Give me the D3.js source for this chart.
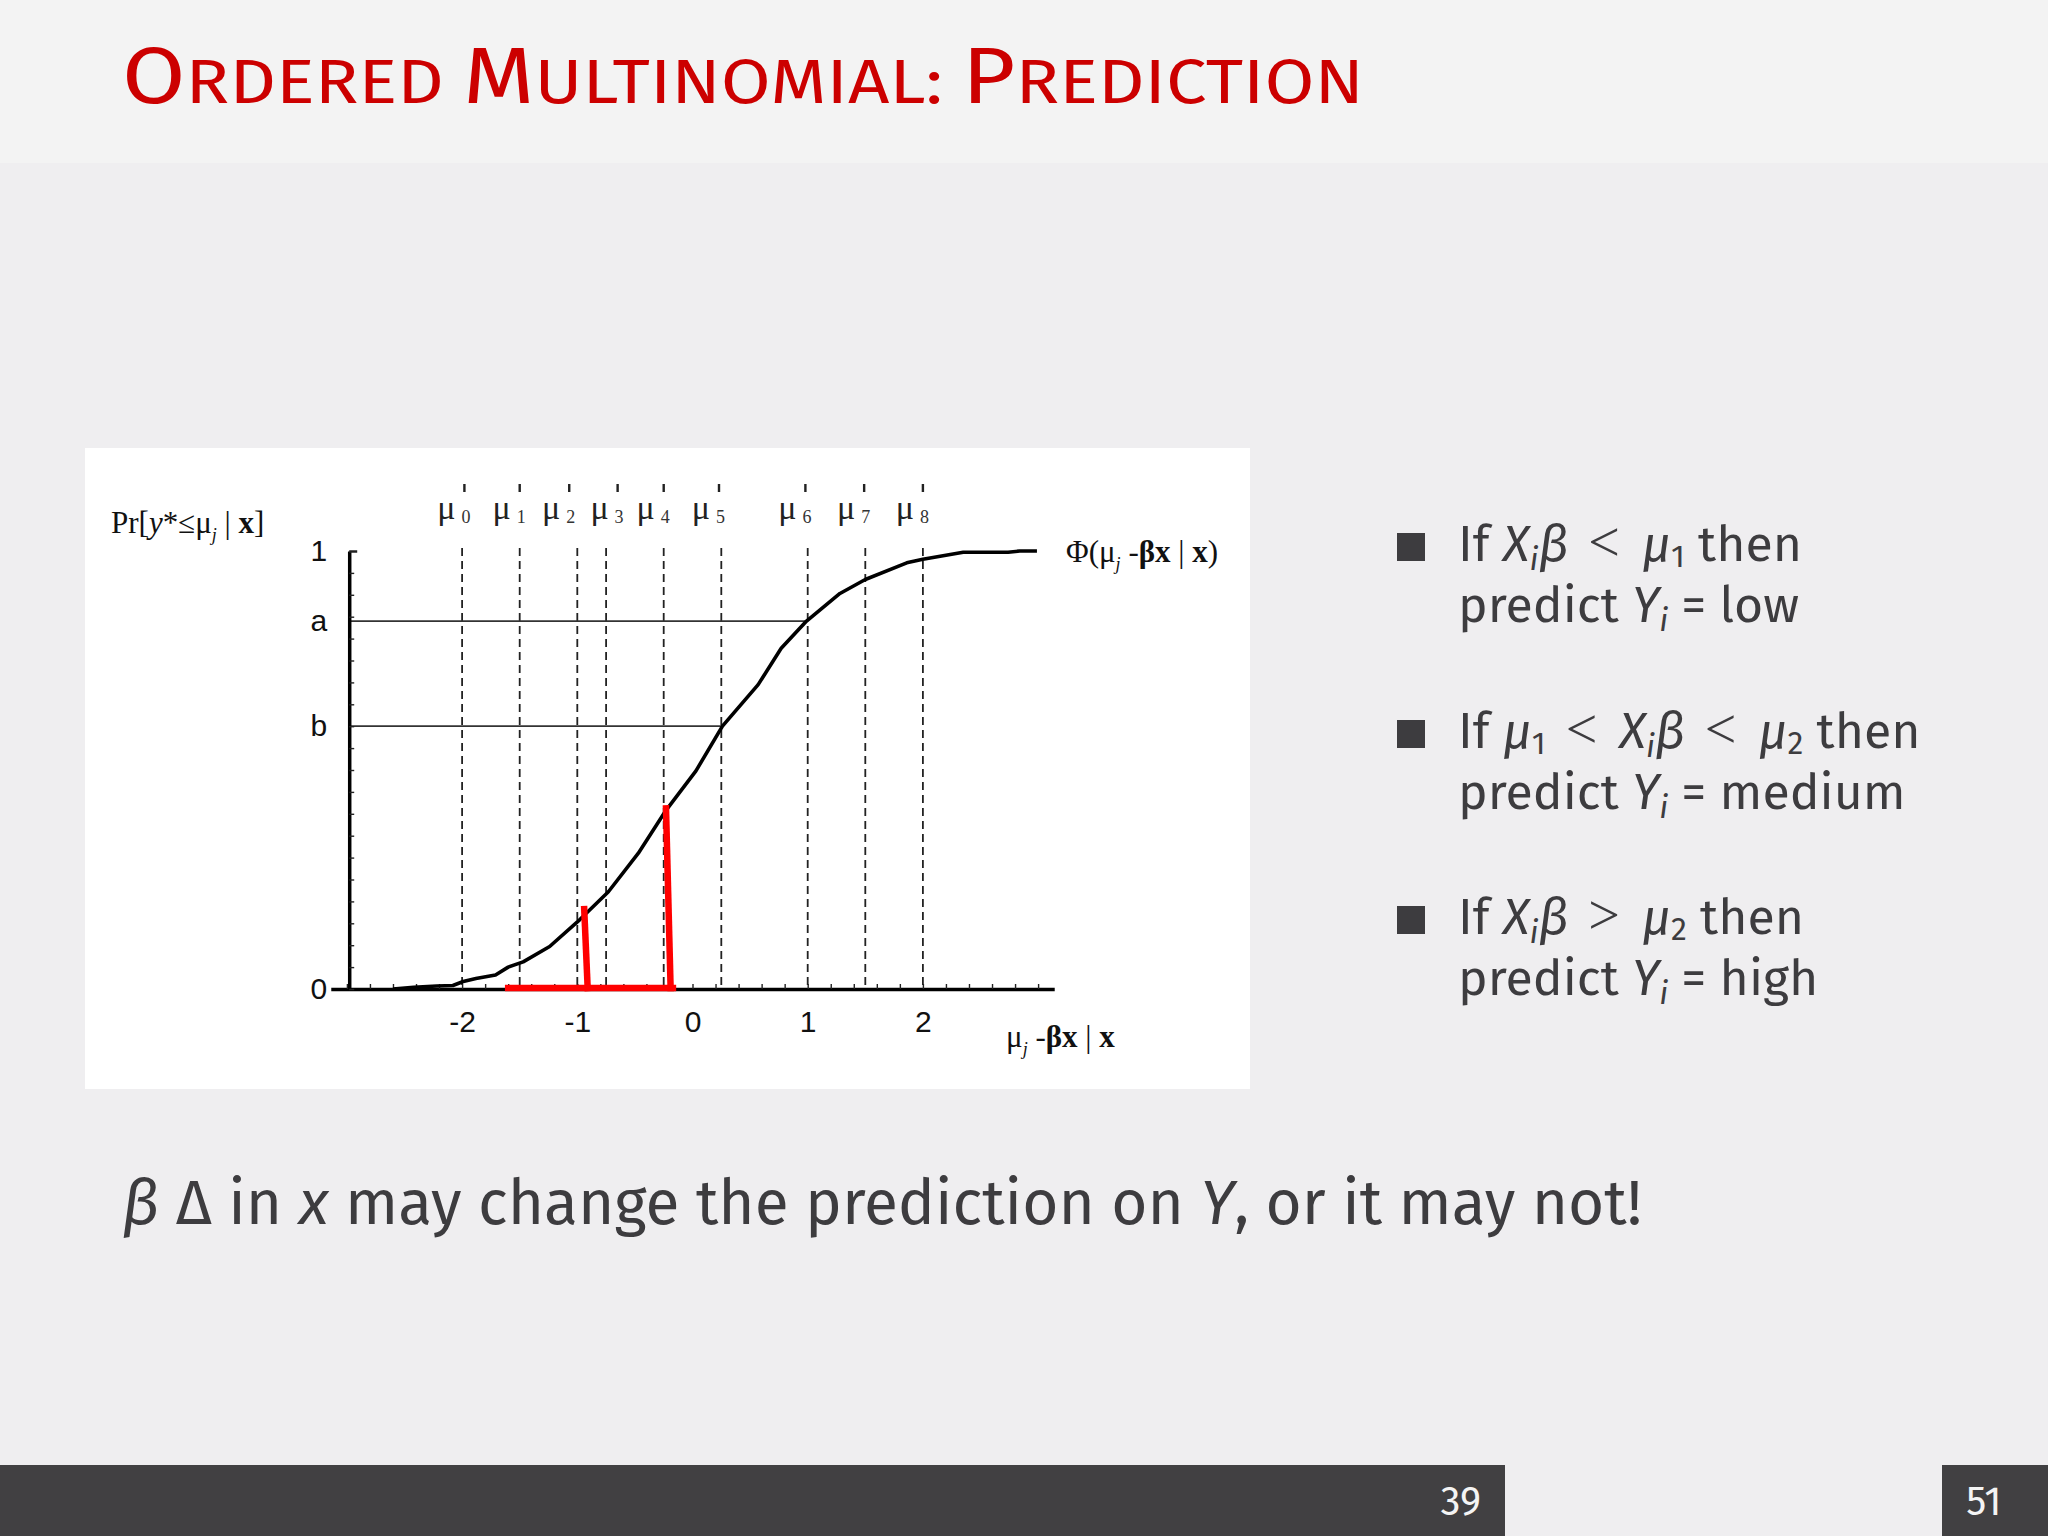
<!DOCTYPE html>
<html>
<head>
<meta charset="utf-8">
<script src="https://cdn.jsdelivr.net/npm/d3@7"></script>
<style>
  html, body { margin: 0; padding: 0; background: #efeef0; }
  svg { display: block; }
</style>
</head>
<body>
<div id="slide"></div>
<script>
// cut points mu'_0 .. mu'_8 on the x axis (dashed lines) and where their labels sit
const muNames = ['0', '1', '2', '3', '4', '5', '6', '7', '8']
const muCuts = [-2, -1.5, -1, -0.75, -0.25, 0.25, 1, 1.5, 2]
const muLabelAt = [-1.98, -1.5, -1.07, -0.65, -0.25, 0.23, 0.98, 1.49, 2.0]

// the cumulative curve
const phiX = [-2.60, -2.42, -2.22, -2.08, -1.99, -1.88, -1.71, -1.60, -1.47, -1.24, -0.98, -0.73, -0.47,
  -0.23, 0.03, 0.26, 0.57, 0.77, 0.99, 1.28, 1.50, 1.86, 2.00, 2.35, 2.74, 2.84, 2.99]
const phiY = [0.000, 0.004, 0.007, 0.008, 0.017, 0.024, 0.032, 0.050, 0.062, 0.097, 0.158, 0.222, 0.310,
  0.408, 0.498, 0.600, 0.695, 0.778, 0.840, 0.903, 0.935, 0.973, 0.981, 0.997, 0.997, 1.000, 1.000]

const xTicks = [-2, -1, 0, 1, 2]
const yTickValues = [0, 0.60, 0.84, 1]
const yTickLabels = ['0', 'b', 'a', '1']

// horizontal guides a and b run from the y axis to the curve
const levelX = [1, 0.25]
const levelY = [0.84, 0.60]

// red highlight segments
const redFromX = [-1.60, -0.91, -0.19]
const redFromY = [0, 0, 0]
const redToX = [-0.17, -0.94, -0.23]
const redToY = [0, 0.18, 0.41]

const W = 2048
const H = 1536
const ink = '#3d3c3f'
const sans = "'Fira Sans', 'Open Sans', sans-serif"
const serif = "'Liberation Serif', 'Times New Roman', serif"
const arial = "'Liberation Sans', Arial, sans-serif"

const svg = d3.select('#slide')
  .append('svg')
  .attr('width', W)
  .attr('height', H)

// background, header band
svg.append('rect').attr('width', W).attr('height', H).attr('fill', '#efeef0')
svg.append('rect').attr('width', W).attr('height', 163).attr('fill', '#f3f3f3')

// title in small caps
const title = svg.append('text')
  .attr('x', 122)
  .attr('y', 103)
  .attr('fill', '#cc0000')
  .attr('font-family', sans)
  .attr('textLength', 1242)
  .attr('lengthAdjust', 'spacingAndGlyphs')
const titleWords = ['Ordered', 'Multinomial:', 'Prediction']
titleWords.forEach((w, i) => {
  title.append('tspan').attr('font-size', 80).text(w[0])
  title.append('tspan').attr('font-size', 63)
    .text(w.slice(1).toUpperCase() + (i < titleWords.length - 1 ? ' ' : ''))
})

// white figure panel
svg.append('rect')
  .attr('x', 85).attr('y', 448)
  .attr('width', 1165).attr('height', 641)
  .attr('fill', '#ffffff')

const x = d3.scaleLinear()
  .domain([-3.14, 3.14])
  .range([692.5 - 3.14 * 115.2, 692.5 + 3.14 * 115.2])
const y = d3.scaleLinear()
  .domain([0, 1])
  .range([989, 551])

const fig = svg.append('g')

// dashed cut lines
fig.selectAll('.cut')
  .data(muCuts)
  .enter()
  .append('line')
  .attr('class', 'cut')
  .attr('x1', d => x(d)).attr('x2', d => x(d))
  .attr('y1', y(1) - 3).attr('y2', y(0))
  .attr('stroke', '#222')
  .attr('stroke-width', 1.8)
  .attr('stroke-dasharray', '8,5')

// mu' labels
const muG = fig.selectAll('.mu')
  .data(muNames)
  .enter()
  .append('g')
  .attr('class', 'mu')
  .attr('transform', (d, i) => `translate(${x(muLabelAt[i])},0)`)
muG.append('text')
  .attr('x', -9).attr('y', 519)
  .attr('text-anchor', 'end')
  .attr('font-family', serif)
  .attr('font-size', 34)
  .attr('fill', '#222')
  .text('μ')
muG.append('text')
  .attr('x', -3).attr('y', 523)
  .attr('font-family', serif)
  .attr('font-size', 18)
  .attr('fill', '#333')
  .text(d => d)
muG.append('rect')
  .attr('x', -1.2).attr('y', 484)
  .attr('width', 2.4).attr('height', 8)
  .attr('fill', '#222')

// a and b guides
fig.selectAll('.level')
  .data(levelY)
  .enter()
  .append('line')
  .attr('class', 'level')
  .attr('x1', x(-2.98))
  .attr('x2', (d, i) => x(levelX[i]))
  .attr('y1', d => y(d)).attr('y2', d => y(d))
  .attr('stroke', '#333')
  .attr('stroke-width', 1.8)

// x axis
const xAxis = d3.axisBottom(x)
  .tickValues(xTicks)
  .tickSize(0)
  .tickSizeOuter(0)
  .tickPadding(22)
  .tickFormat(d => String(d))
const gx = fig.append('g')
  .attr('transform', `translate(0,${y(0)})`)
  .call(xAxis)
gx.select('.domain').attr('stroke', '#000').attr('stroke-width', 3.5)
gx.selectAll('text')
  .attr('font-family', arial)
  .attr('font-size', 30)
  .attr('fill', '#111')

// x minor ticks
const xMinor = d3.axisTop(x)
  .tickValues(d3.range(-3.0, 3.01, 0.2))
  .tickSize(5)
  .tickSizeOuter(0)
  .tickFormat('')
const gxm = fig.append('g')
  .attr('transform', `translate(0,${y(0)})`)
  .call(xMinor)
gxm.select('.domain').remove()
gxm.selectAll('line').attr('stroke', '#222').attr('stroke-width', 1.4)

// y axis
const yAxis = d3.axisLeft(y)
  .tickValues(yTickValues)
  .tickSize(0)
  .tickSizeOuter(0)
  .tickPadding(22)
  .tickFormat((d, i) => yTickLabels[i])
const gy = fig.append('g')
  .attr('transform', `translate(${x(-2.98)},0)`)
  .call(yAxis)
gy.select('.domain').attr('stroke', '#000').attr('stroke-width', 3.5)
gy.selectAll('text')
  .attr('font-family', arial)
  .attr('font-size', 30)
  .attr('fill', '#111')

const yMinor = d3.axisRight(y)
  .tickValues(d3.range(0, 1.001, 0.05))
  .tickSize(5)
  .tickSizeOuter(0)
  .tickFormat('')
const gym = fig.append('g')
  .attr('transform', `translate(${x(-2.98)},0)`)
  .call(yMinor)
gym.select('.domain').remove()
gym.selectAll('line').attr('stroke', '#222').attr('stroke-width', 1.4)
gym.selectAll('.tick')
  .filter(d => d > 0.999)
  .select('line')
  .attr('x2', 8)
  .attr('stroke-width', 2.5)

// curve
const line = d3.line()
  .x(d => x(d[0]))
  .y(d => y(d[1]))
fig.append('path')
  .datum(phiX.map((v, i) => [v, phiY[i]]))
  .attr('d', line)
  .attr('fill', 'none')
  .attr('stroke', '#000')
  .attr('stroke-width', 3.6)
  .attr('stroke-linejoin', 'round')

// red highlight
fig.selectAll('.red')
  .data(redFromX)
  .enter()
  .append('line')
  .attr('class', 'red')
  .attr('x1', d => x(d))
  .attr('y1', (d, i) => y(redFromY[i]) - 1)
  .attr('x2', (d, i) => x(redToX[i]))
  .attr('y2', (d, i) => y(redToY[i]) - 1)
  .attr('stroke', '#ff0000')
  .attr('stroke-width', 6.5)
  .attr('stroke-linecap', 'square')

// figure labels
const addParts = (sel, parts) => {
  parts.forEach(p => {
    const t = sel.append('tspan').text(p.t)
    if (p.i) t.attr('font-style', 'italic')
    if (p.b) t.attr('font-weight', 'bold')
    if (p.f) t.attr('font-family', p.f)
    if (p.fs) t.attr('font-size', p.fs)
    if (p.sub) t.attr('font-size', p.sub).attr('dy', p.dy)
    if (p.up) t.attr('dy', p.up)
    if (p.dx) t.attr('dx', p.dx)
  })
}

const yLab = fig.append('text')
  .attr('x', 111).attr('y', 533)
  .attr('font-family', serif)
  .attr('font-size', 31)
  .attr('fill', '#111')
addParts(yLab, [
  { t: 'Pr[' }, { t: 'y', i: 1 }, { t: '*≤μ' },
  { t: 'j', i: 1, sub: 18, dy: 8 }, { t: ' | ', up: -8 }, { t: 'x', b: 1 }, { t: ']' }
])

const phiLab = fig.append('text')
  .attr('x', 1066).attr('y', 562)
  .attr('font-family', serif)
  .attr('font-size', 31)
  .attr('fill', '#111')
addParts(phiLab, [
  { t: 'Φ(μ' }, { t: 'j', i: 1, sub: 18, dy: 8 }, { t: ' -', up: -8 },
  { t: 'βx', b: 1 }, { t: ' | ' }, { t: 'x', b: 1 }, { t: ')' }
])

const xLab = fig.append('text')
  .attr('x', 1006).attr('y', 1047)
  .attr('font-family', serif)
  .attr('font-size', 31)
  .attr('fill', '#111')
addParts(xLab, [
  { t: 'μ' }, { t: 'j', i: 1, sub: 18, dy: 8 }, { t: ' -', up: -8 },
  { t: 'βx', b: 1 }, { t: ' | ' }, { t: 'x', b: 1 }
])

// bullets on the right
const rel = (s, up) => ({ t: s, f: serif, fs: 56, dx: 6, up })
const after = (s, up) => ({ t: s, i: 1, dx: 9, up })
const bullets = [
  [
    [{ t: 'If ' }, { t: 'X', i: 1 }, { t: 'i', i: 1, sub: 32, dy: 9 }, { t: 'β', i: 1, up: -9 },
      rel(' <'), after(' μ'), { t: '1', sub: 32, dy: 6 }, { t: ' then', up: -6 }],
    [{ t: 'predict ' }, { t: 'Y', i: 1 }, { t: 'i', i: 1, sub: 32, dy: 9 }, { t: ' = low', up: -9 }]
  ],
  [
    [{ t: 'If ' }, { t: 'μ', i: 1 }, { t: '1', sub: 32, dy: 6 }, rel(' <', -6),
      after(' X'), { t: 'i', i: 1, sub: 32, dy: 9 }, { t: 'β', i: 1, up: -9 },
      rel(' <'), after(' μ'), { t: '2', sub: 32, dy: 6 }, { t: ' then', up: -6 }],
    [{ t: 'predict ' }, { t: 'Y', i: 1 }, { t: 'i', i: 1, sub: 32, dy: 9 }, { t: ' = medium', up: -9 }]
  ],
  [
    [{ t: 'If ' }, { t: 'X', i: 1 }, { t: 'i', i: 1, sub: 32, dy: 9 }, { t: 'β', i: 1, up: -9 },
      rel(' >'), after(' μ'), { t: '2', sub: 32, dy: 6 }, { t: ' then', up: -6 }],
    [{ t: 'predict ' }, { t: 'Y', i: 1 }, { t: 'i', i: 1, sub: 32, dy: 9 }, { t: ' = high', up: -9 }]
  ]
]
const bulletTop = [561, 748, 934]

bullets.forEach((b, i) => {
  svg.append('rect')
    .attr('x', 1397).attr('y', bulletTop[i] - 28)
    .attr('width', 28).attr('height', 28)
    .attr('fill', ink)
  b.forEach((ln, j) => {
    const t = svg.append('text')
      .attr('x', 1458)
      .attr('y', bulletTop[i] + j * 61)
      .attr('font-family', sans)
      .attr('font-size', 50)
      .attr('fill', ink)
    addParts(t, ln)
  })
})

// bottom remark
const remark = svg.append('text')
  .attr('x', 122).attr('y', 1224)
  .attr('font-family', sans)
  .attr('font-size', 62)
  .attr('fill', ink)
  .attr('textLength', 1520)
  .attr('lengthAdjust', 'spacingAndGlyphs')
addParts(remark, [
  { t: 'β', i: 1 }, { t: ' Δ in ' }, { t: 'x', i: 1 }, { t: ' may change the prediction on ' },
  { t: 'Y', i: 1 }, { t: ', or it may not!' }
])

// footer
svg.append('rect').attr('x', 0).attr('y', 1465).attr('width', 1505).attr('height', 71).attr('fill', '#414042')
svg.append('rect').attr('x', 1942).attr('y', 1465).attr('width', 106).attr('height', 71).attr('fill', '#414042')
svg.append('text')
  .attr('x', 1481).attr('y', 1515)
  .attr('text-anchor', 'end')
  .attr('font-family', sans)
  .attr('font-size', 40)
  .attr('fill', '#f4f4f4')
  .text('39')
svg.append('text')
  .attr('x', 1984).attr('y', 1515)
  .attr('text-anchor', 'middle')
  .attr('font-family', sans)
  .attr('font-size', 40)
  .attr('fill', '#f4f4f4')
  .text('51')
</script>
</body>
</html>
